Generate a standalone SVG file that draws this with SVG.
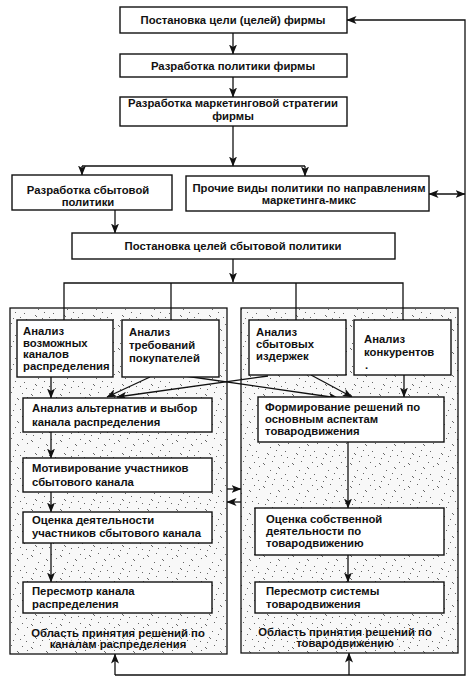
<svg xmlns="http://www.w3.org/2000/svg" width="476" height="684" viewBox="0 0 476 684">
<style>
text{font-family:"Liberation Sans",Arial,sans-serif;font-size:11.3px;font-weight:bold;fill:#111}
.c{text-anchor:middle}
.box{fill:#fff;stroke:#111;stroke-width:1.4}
.panel{fill:url(#speck);stroke:#111;stroke-width:1.3}
.ln{fill:none;stroke:#111;stroke-width:1.3}
.ar{fill:none;stroke:#111;stroke-width:1.3;marker-end:url(#ah)}
</style>
<defs>
<marker id="ah" viewBox="0 0 10 8" refX="9.5" refY="4" markerWidth="10" markerHeight="8" markerUnits="userSpaceOnUse" orient="auto-start-reverse">
<path d="M0,0 L10,4 L0,8 L2.5,4 Z" fill="#111"/>
</marker>
<pattern id="speck" width="29" height="23" patternUnits="userSpaceOnUse">
<rect width="29" height="23" fill="#f8f8f8"/>
<g fill="#666">
<rect x="2" y="3" width="1" height="1"/><rect x="3" y="4" width="1" height="1"/>
<rect x="11" y="1" width="1" height="1"/><rect x="17" y="7" width="1" height="1"/>
<rect x="18" y="8" width="1" height="1"/><rect x="24" y="14" width="1" height="1"/>
<rect x="6" y="16" width="1" height="1"/><rect x="7" y="17" width="1" height="1"/>
<rect x="13" y="19" width="1" height="1"/><rect x="22" y="2" width="1" height="1"/>
<rect x="26" y="20" width="1" height="1"/><rect x="9" y="10" width="1" height="1"/>
<rect x="15" y="13" width="1" height="1"/><rect x="20" y="18" width="1" height="1"/>
<rect x="27" y="6" width="1" height="1"/><rect x="4" y="21" width="1" height="1"/>
</g>
</pattern>
</defs>

<g id="panel-left"><rect class="panel" x="10" y="308" width="217" height="346"/>
<text class="c" x="118" y="637">Область принятия решений по</text>
<text class="c" x="118" y="648">каналам распределения</text></g>
<g id="panel-right"><rect class="panel" x="241" y="308" width="217" height="345"/>
<text class="c" x="345" y="636">Область принятия решений по</text>
<text class="c" x="345" y="647">товародвижению</text></g>

<g id="connectors">
<line class="ar" x1="233" y1="33" x2="233" y2="54"/>
<line class="ar" x1="233" y1="77" x2="233" y2="97"/>
<line class="ar" x1="233" y1="126" x2="233" y2="166"/>
<polyline class="ln" points="82,166 305,166"/>
<line class="ar" x1="82" y1="166" x2="82" y2="175"/>
<line class="ar" x1="305" y1="166" x2="305" y2="176"/>
<line class="ar" x1="429" y1="194" x2="465" y2="194" marker-start="url(#ah)"/>
<line class="ar" x1="115" y1="210" x2="115" y2="233"/>
<line class="ar" x1="233" y1="259" x2="233" y2="282"/>
<polyline class="ln" points="64,320 64,283 403,283 403,320"/>
<line class="ln" x1="171" y1="283" x2="171" y2="320"/>
<line class="ln" x1="296" y1="283" x2="296" y2="320"/>
<line class="ar" x1="51" y1="377" x2="51" y2="398"/>
<line class="ar" x1="150" y1="377" x2="107" y2="397"/>
<line class="ar" x1="185" y1="376" x2="338" y2="398"/>
<line class="ar" x1="268" y1="376" x2="117" y2="397"/>
<line class="ar" x1="311" y1="375" x2="352" y2="397"/>
<line class="ar" x1="404" y1="375" x2="404" y2="397"/>
<line class="ar" x1="51" y1="432" x2="51" y2="458"/>
<line class="ar" x1="51" y1="492" x2="51" y2="512"/>
<line class="ar" x1="51" y1="543" x2="51" y2="582"/>
<line class="ar" x1="348" y1="442" x2="348" y2="508"/>
<line class="ar" x1="348" y1="555" x2="348" y2="582"/>
<line class="ar" x1="227" y1="489" x2="241" y2="489"/>
<line class="ar" x1="241" y1="502" x2="227" y2="502"/>
<polyline class="ar" points="115,675 465,675 465,20 347,20"/>
<line class="ar" x1="115" y1="675" x2="115" y2="654"/>
<line class="ar" x1="349" y1="675" x2="349" y2="653"/>
</g>

<g id="n1"><rect class="box" x="120" y="7" width="227" height="26"/><text class="c" x="233" y="24">Постановка цели (целей) фирмы</text></g>
<g id="n2"><rect class="box" x="120" y="54" width="227" height="23"/><text class="c" x="233" y="70">Разработка политики фирмы</text></g>
<g id="n3"><rect class="box" x="120" y="97" width="227" height="29"/><text class="c" x="233" y="107">Разработка маркетинговой стратегии</text><text class="c" x="233" y="120">фирмы</text></g>
<g id="n4"><rect class="box" x="12" y="175" width="160" height="35"/><text class="c" x="88" y="194">Разработка сбытовой</text><text class="c" x="88" y="206">политики</text></g>
<g id="n5"><rect class="box" x="186" y="176" width="243" height="35"/><text class="c" x="309" y="192">Прочие виды политики по направлениям</text><text class="c" x="309" y="204">маркетинга-микс</text></g>
<g id="n6"><rect class="box" x="72" y="233" width="323" height="26"/><text class="c" x="233" y="250">Постановка целей сбытовой политики</text></g>

<g id="n7"><rect class="box" x="17" y="320" width="96" height="57"/><text x="23" y="335">Анализ</text><text x="23" y="347">возможных</text><text x="23" y="358">каналов</text><text x="23" y="370">распределения</text></g>
<g id="n8"><rect class="box" x="122" y="320" width="97" height="57"/><text x="129" y="336">Анализ</text><text x="129" y="349">требований</text><text x="129" y="362">покупателей</text></g>
<g id="n9"><rect class="box" x="249" y="320" width="97" height="55"/><text x="256" y="336">Анализ</text><text x="256" y="348">сбытовых</text><text x="256" y="360">издержек</text></g>
<g id="n10"><rect class="box" x="354" y="320" width="97" height="55"/><text x="364" y="343">Анализ</text><text x="364" y="356">конкурентов</text><text x="365" y="369">.</text></g>

<g id="n11"><rect class="box" x="23" y="398" width="189" height="34"/><text x="32" y="412">Анализ альтернатив и выбор</text><text x="32" y="426">канала распределения</text></g>
<g id="n12"><rect class="box" x="23" y="458" width="189" height="34"/><text x="32" y="472">Мотивирование участников</text><text x="32" y="486">сбытового канала</text></g>
<g id="n13"><rect class="box" x="23" y="512" width="189" height="31"/><text x="32" y="524">Оценка деятельности</text><text x="32" y="537">участников сбытового канала</text></g>
<g id="n14"><rect class="box" x="23" y="582" width="189" height="31"/><text x="32" y="595">Пересмотр канала</text><text x="32" y="608">распределения</text></g>

<g id="n15"><rect class="box" x="258" y="397" width="186" height="45"/><text x="265" y="411">Формирование решений по</text><text x="265" y="423">основным аспектам</text><text x="265" y="435">товародвижения</text></g>
<g id="n16"><rect class="box" x="255" y="508" width="189" height="47"/><text x="266" y="523">Оценка собственной</text><text x="266" y="535">деятельности по</text><text x="266" y="547">товародвижению</text></g>
<g id="n17"><rect class="box" x="255" y="582" width="189" height="31"/><text x="266" y="595">Пересмотр системы</text><text x="266" y="608">товародвижения</text></g>
</svg>
